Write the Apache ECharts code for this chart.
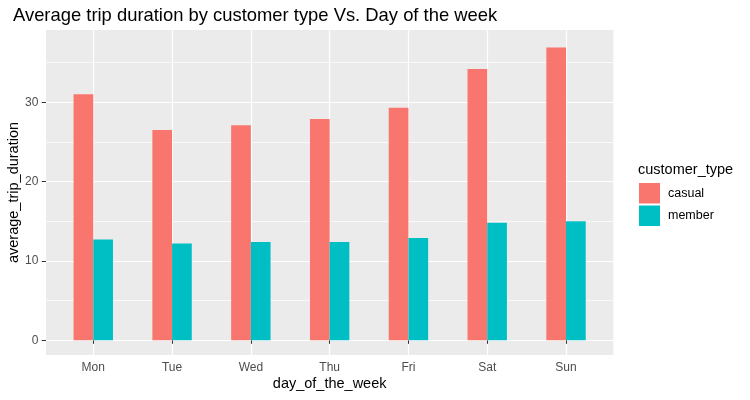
<!DOCTYPE html>
<html><head><meta charset="utf-8">
<script src="https://cdn.jsdelivr.net/npm/echarts@6/dist/echarts.min.js"></script>
<style>html,body{margin:0;padding:0;background:#fff}#c{width:750px;height:400px}</style>
</head><body><div id="c"></div>
<script>
const days = ['Mon','Tue','Wed','Thu','Fri','Sat','Sun'];
const casual = [31.0, 26.5, 27.1, 27.9, 29.3, 34.2, 36.9];
const member = [12.7, 12.2, 12.4, 12.4, 12.9, 14.8, 15.0];
const yTicks = [0, 10, 20, 30];
const yMinor = [5, 15, 25, 35];
const xPos = days.map((d, i) => i + 1);

const font = 'Liberation Sans, Arial, sans-serif';
const chart = echarts.init(document.getElementById('c'));
chart.setOption({
  animation: false,
  textStyle: {fontFamily: font},
  title: [
    {text: 'Average trip duration by customer type Vs. Day of the week', left: 13, top: 7, padding: 0,
     textStyle: {fontFamily: font, fontSize: 18.4, fontWeight: 'normal', color: '#000'}},
    {text: 'customer_type', left: 638, top: 162, padding: 0,
     textStyle: {fontFamily: font, fontSize: 14.5, fontWeight: 'normal', color: '#000'}}
  ],
  legend: {
    orient: 'vertical', left: 639, top: 183, itemWidth: 21, itemHeight: 20.5, itemGap: 2,
    icon: 'rect', padding: 0,
    textStyle: {fontFamily: font, fontSize: 12.5, color: '#000', padding: [0,0,0,3]},
    data: ['casual', 'member']
  },
  grid: {left: 46, right: 136.7, top: 30, bottom: 45, show: true, backgroundColor: '#EBEBEB', borderWidth: 0,
    containLabel: false, outerBoundsMode: 'none'},
  xAxis: {
    type: 'value', min: 0.4, max: 7.6,
    name: 'day_of_the_week', nameLocation: 'middle', nameGap: 21, nameMoveOverlap: false,
    nameTextStyle: {fontFamily: font, fontSize: 14.5, color: '#000'},
    axisLine: {show: false},
    axisTick: {show: true, length: 3.5, lineStyle: {color: '#333', width: 1}, customValues: xPos},
    axisLabel: {customValues: xPos, margin: 6.5, color: '#4D4D4D', fontSize: 12, fontFamily: font,
      formatter: v => days[Math.round(v) - 1] || ''},
    splitLine: {show: true, lineStyle: {color: '#fff', width: 1.2}}
  },
  yAxis: [{
    type: 'value', min: -1.85, max: 39.1,
    name: 'average_trip_duration', nameLocation: 'middle', nameGap: 24.5, nameRotate: 90, nameMoveOverlap: false,
    nameTextStyle: {fontFamily: font, fontSize: 14.5, color: '#000'},
    axisLine: {show: false},
    axisTick: {show: true, length: 4.3, lineStyle: {color: '#333', width: 1}, customValues: yTicks},
    axisLabel: {customValues: yTicks, margin: 7.7, color: '#4D4D4D', fontSize: 12, fontFamily: font},
    splitLine: {show: true, lineStyle: {color: '#fff', width: 1.2}}
  }, {
    type: 'value', min: -1.85, max: 39.1, position: 'left',
    axisLine: {show: false}, axisLabel: {show: false},
    axisTick: {show: false, customValues: yMinor},
    splitLine: {show: true, lineStyle: {color: '#fff', width: 0.7}}
  }],
  series: [
    {name: 'casual', type: 'bar', barWidth: 19.7, barGap: '0%', itemStyle: {color: '#F8766D'},
     data: casual.map((v, i) => [xPos[i], v])},
    {name: 'member', type: 'bar', barWidth: 19.7, barGap: '0%', itemStyle: {color: '#00BFC4'},
     data: member.map((v, i) => [xPos[i], v])}
  ]
});
</script></body></html>
